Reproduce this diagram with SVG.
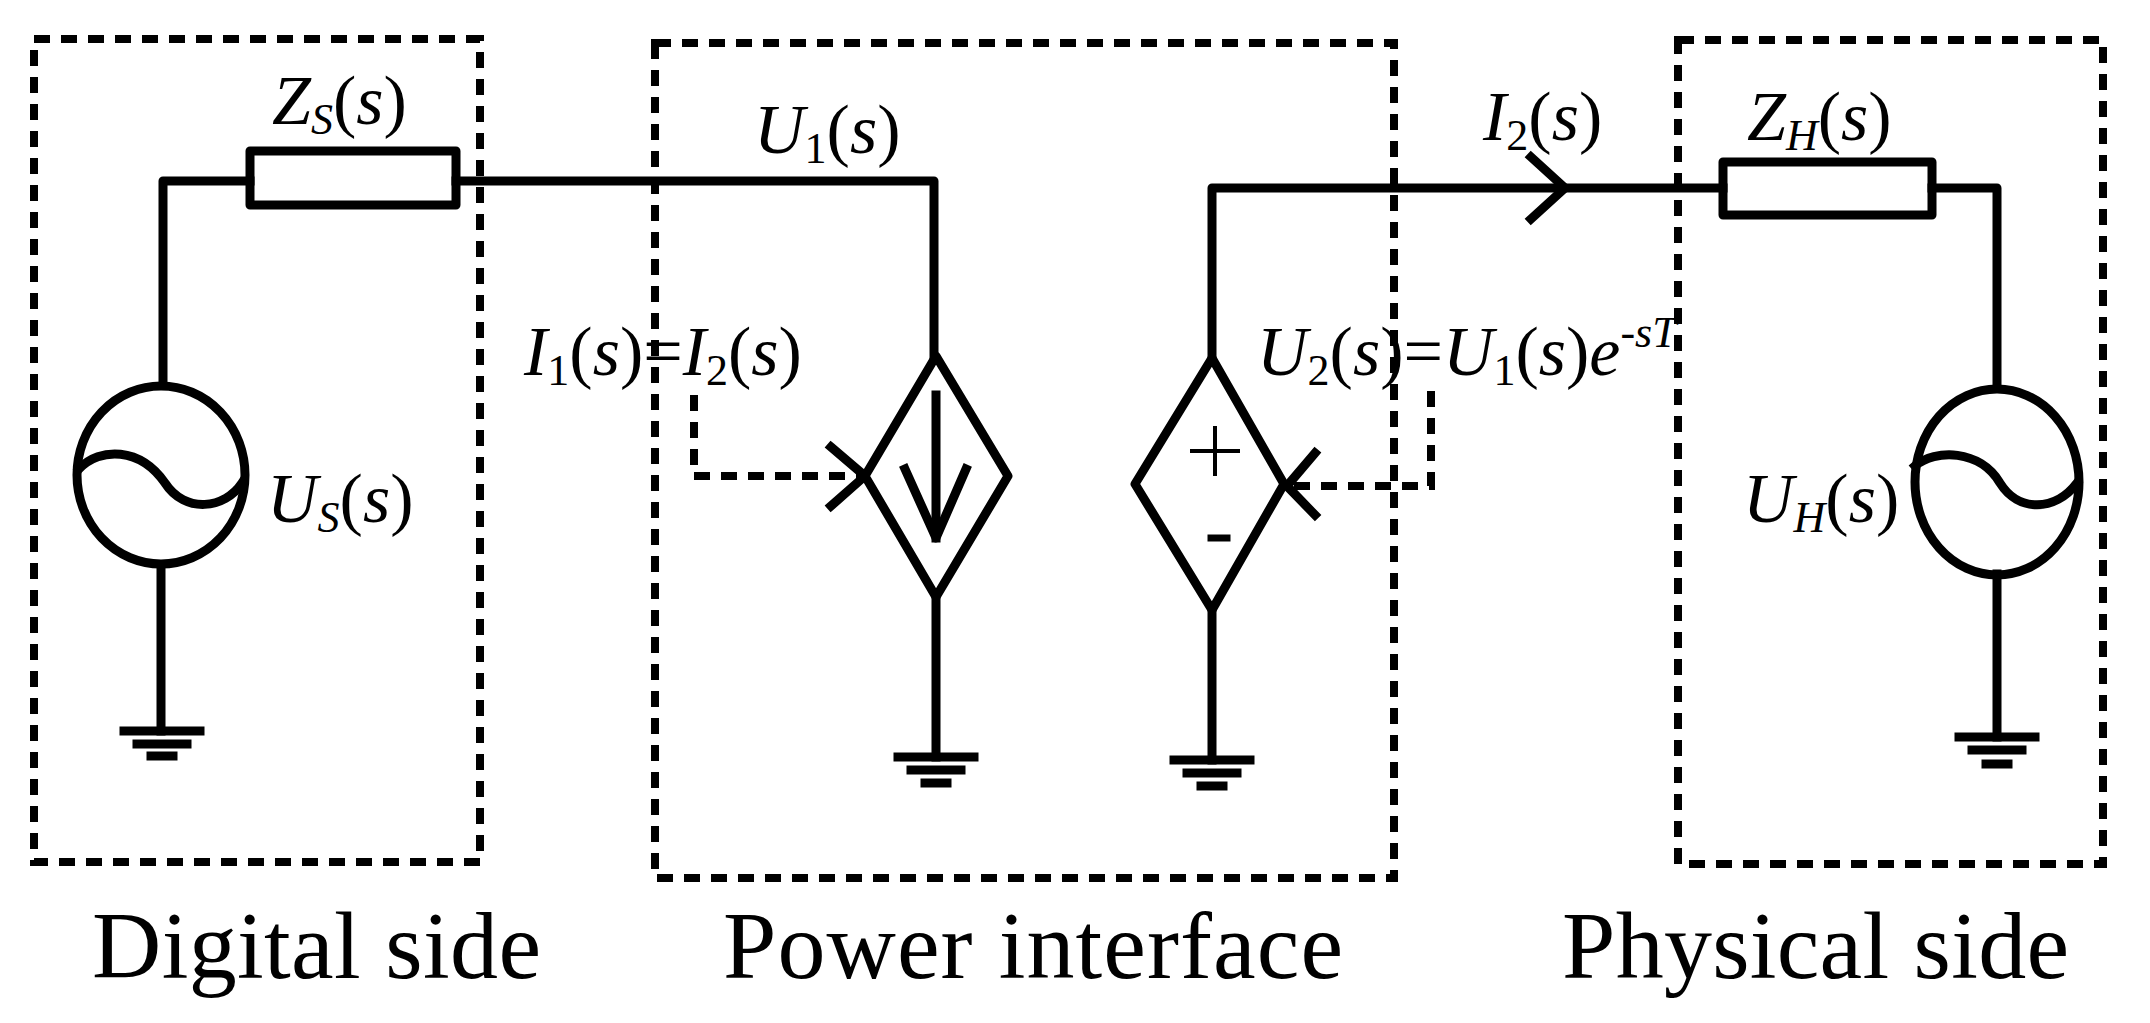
<svg xmlns="http://www.w3.org/2000/svg" width="2150" height="1023" viewBox="0 0 2150 1023">
<style>
.w{fill:none;stroke:#000;stroke-width:9;stroke-linejoin:round;stroke-linecap:square}
.d{fill:none;stroke:#000;stroke-width:8;stroke-dasharray:16 11}
.t{font-family:"Liberation Serif","Times New Roman","DejaVu Serif",serif;font-size:70px;font-style:italic}
.sub{font-size:44px}
.up{font-style:normal}
.big{font-family:"Liberation Serif","Times New Roman","DejaVu Serif",serif;font-size:96px}
</style>
<g id="boxes">
<rect class="d" x="34" y="39" width="446" height="823"/>
<rect class="d" x="655" y="43" width="739" height="835"/>
<rect class="d" x="1678" y="40" width="425" height="824"/>
</g>
<g id="connectors">
<polyline class="w" points="163,385 163,181 250,181"/>
<polyline class="w" points="456,181 934,181 934,356"/>
<line class="w" x1="936" y1="597" x2="936" y2="757"/>
<line class="w" x1="161" y1="565" x2="161" y2="731"/>
<polyline class="w" points="1212,358 1212,188 1723,188"/>
<polyline class="w" points="1932,188 1997,188 1997,388"/>
<line class="w" x1="1997" y1="574" x2="1997" y2="737"/>
<line class="w" x1="1212" y1="610" x2="1212" y2="760"/>
<polyline class="w" points="1531,157 1565,188 1531,219"/>
<polyline class="d" points="694,395 694,476 860,476"/>
<polyline class="d" points="1431,391 1431,486 1290,486"/>
<polyline class="w" points="831,447 865,476 831,506"/>
<polyline class="w" points="1315,453 1287,486 1315,515"/>
</g>
<g id="ZS"><rect class="w" x="250" y="151" width="206" height="54"/></g>
<g id="ZH"><rect class="w" x="1723" y="162" width="209" height="53"/></g>
<g id="US">
<ellipse class="w" cx="161" cy="475" rx="84" ry="89"/>
<path class="w" d="M79,469 C100,447 140,447 165,483 C185,514 225,509 242,483"/>
</g>
<g id="UH">
<ellipse class="w" cx="1997" cy="482" rx="82" ry="93"/>
<path class="w" d="M1915,466 C1935,449 1980,449 2000,483 C2018,512 2055,512 2077,483"/>
</g>
<g id="CCS">
<polygon class="w" points="936,356 1008,476 936,597 865,476"/>
<line class="w" x1="936" y1="395" x2="936" y2="538"/>
<polyline class="w" points="905,469 936,538 966,469"/>
</g>
<g id="CVS">
<polygon class="w" points="1212,358 1284,484 1212,610 1135,484"/>
<line class="w" x1="1215" y1="428" x2="1215" y2="474" style="stroke-width:4"/>
<line class="w" x1="1192" y1="451" x2="1238" y2="451" style="stroke-width:4"/>
<line class="w" x1="1211" y1="538" x2="1227" y2="538" style="stroke-width:7"/>
</g>
<g id="grounds">
<path class="w" d="M124,731h76M137,744h50M151,756h22"/>
<path class="w" d="M898,757h76M911,770h50M925,783h22"/>
<path class="w" d="M1174,760h76M1187,773h50M1201,786h22"/>
<path class="w" d="M1959,737h76M1972,750h50M1986,764h22"/>
</g>
<g id="labels">
<text class="t" x="272" y="124">Z<tspan class="sub" dy="10">S</tspan><tspan class="up" dy="-10">(</tspan>s<tspan class="up">)</tspan></text>
<text class="t" x="754" y="153">U<tspan class="sub up" dy="10">1</tspan><tspan class="up" dy="-10">(</tspan>s<tspan class="up">)</tspan></text>
<text class="t" x="524" y="375">I<tspan class="sub up" dy="10">1</tspan><tspan class="up" dy="-10">(</tspan>s<tspan class="up">)=</tspan>I<tspan class="sub up" dy="10">2</tspan><tspan class="up" dy="-10">(</tspan>s<tspan class="up">)</tspan></text>
<text class="t" x="267" y="522">U<tspan class="sub" dy="10">S</tspan><tspan class="up" dy="-10">(</tspan>s<tspan class="up">)</tspan></text>
<text class="t" x="1483" y="140">I<tspan class="sub up" dy="10">2</tspan><tspan class="up" dy="-10">(</tspan>s<tspan class="up">)</tspan></text>
<text class="t" x="1747" y="140">Z<tspan class="sub" dy="10">H</tspan><tspan class="up" dy="-10">(</tspan>s<tspan class="up">)</tspan></text>
<text class="t" x="1257" y="375">U<tspan class="sub up" dy="10">2</tspan><tspan class="up" dy="-10">(</tspan>s<tspan class="up">)=</tspan>U<tspan class="sub up" dy="10">1</tspan><tspan class="up" dy="-10">(</tspan>s<tspan class="up">)</tspan>e<tspan class="sub" dy="-28">-sT</tspan></text>
<text class="t" x="1743" y="522">U<tspan class="sub" dy="10">H</tspan><tspan class="up" dy="-10">(</tspan>s<tspan class="up">)</tspan></text>
<text class="big" x="92" y="978" textLength="449">Digital side</text>
<text class="big" x="723" y="978" textLength="620">Power interface</text>
<text class="big" x="1562" y="978" textLength="507">Physical side</text>
</g>
</svg>
